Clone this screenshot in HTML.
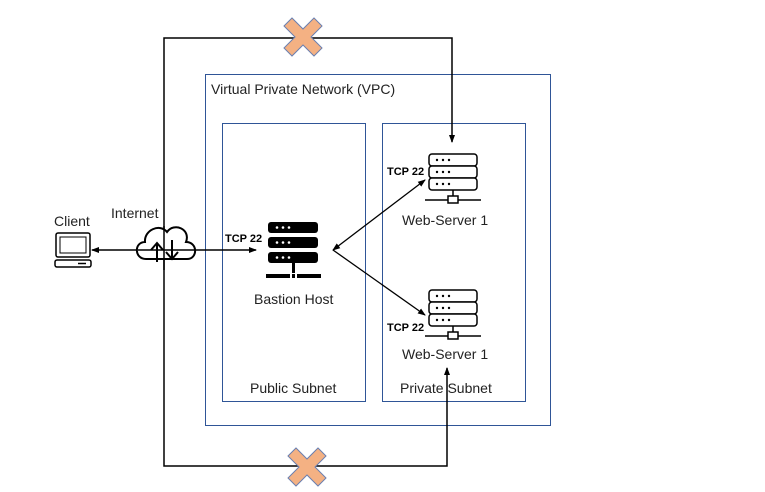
<!DOCTYPE html>
<html><head><style>
body{margin:0;background:#fff;}
svg text{font-family:"Liberation Sans",sans-serif;}
</style></head><body>
<svg width="765" height="487" viewBox="0 0 765 487" xmlns="http://www.w3.org/2000/svg">
<defs>
<marker id="a" markerWidth="8" markerHeight="8" refX="7" refY="4" orient="auto-start-reverse" markerUnits="userSpaceOnUse"><path d="M0,1 L8,4 L0,7 z" fill="#000"/></marker>
<g id="x"><path d="M-19,-11 L-11,-19 L0,-8 L11,-19 L19,-11 L8,0 L19,11 L11,19 L0,8 L-11,19 L-19,11 L-8,0 z" fill="#f4b183" stroke="#6a7fb0" stroke-width="1"/></g>
<g id="ws">
<rect x="0" y="0" width="48" height="12" rx="3" fill="#fff" stroke="#000" stroke-width="1.5"/>
<rect x="0" y="12" width="48" height="12" rx="3" fill="#fff" stroke="#000" stroke-width="1.5"/>
<rect x="0" y="24" width="48" height="12" rx="3" fill="#fff" stroke="#000" stroke-width="1.5"/>
<g fill="#000"><circle cx="8" cy="6" r="1.2"/><circle cx="14" cy="6" r="1.2"/><circle cx="20" cy="6" r="1.2"/>
<circle cx="8" cy="18" r="1.2"/><circle cx="14" cy="18" r="1.2"/><circle cx="20" cy="18" r="1.2"/>
<circle cx="8" cy="30" r="1.2"/><circle cx="14" cy="30" r="1.2"/><circle cx="20" cy="30" r="1.2"/></g>
<line x1="24" y1="36" x2="24" y2="42" stroke="#000" stroke-width="1.5"/>
<line x1="-4" y1="46" x2="52" y2="46" stroke="#000" stroke-width="1.5"/>
<rect x="19" y="42" width="10" height="7" fill="#fff" stroke="#000" stroke-width="1.5"/>
</g>
</defs>
<rect x="205.5" y="74.5" width="345" height="351" fill="none" stroke="#2f5597" stroke-width="1"/>
<rect x="222.5" y="123.5" width="143" height="278" fill="none" stroke="#2f5597" stroke-width="1"/>
<rect x="382.5" y="123.5" width="143" height="278" fill="none" stroke="#2f5597" stroke-width="1"/>
<path d="M452,142 L452,38 L164,38 L164,466 L447,466 L447,368" fill="none" stroke="#000" stroke-width="1.5" marker-start="url(#a)" marker-end="url(#a)"/>
<use href="#x" x="303" y="37"/>
<use href="#x" x="307" y="467"/>
<line x1="92" y1="250" x2="256" y2="250" stroke="#000" stroke-width="1.5" marker-start="url(#a)" marker-end="url(#a)"/>
<line x1="333" y1="250" x2="425" y2="180" stroke="#000" stroke-width="1.3" marker-start="url(#a)" marker-end="url(#a)"/>
<line x1="333" y1="250" x2="425" y2="315" stroke="#000" stroke-width="1.3" marker-end="url(#a)"/>
<rect x="56" y="233" width="34" height="24" rx="2" fill="#fff" stroke="#000" stroke-width="1.5"/>
<rect x="60" y="237" width="26" height="16" fill="#fff" stroke="#000" stroke-width="1"/>
<rect x="55" y="260" width="36" height="7" rx="2" fill="#fff" stroke="#000" stroke-width="1.5"/>
<line x1="78" y1="263.5" x2="86" y2="263.5" stroke="#000" stroke-width="1.5"/>
<path d="M146,259 C134,259 134,242 145,242 C144,230 160,223 167,232 C174,222 191,229 186,242 C198,242 198,259 187,259 Z" fill="#fff" stroke="#000" stroke-width="2"/>
<line x1="164" y1="226" x2="164" y2="270" stroke="#000" stroke-width="1.5"/>
<line x1="138" y1="250" x2="196" y2="250" stroke="#000" stroke-width="1.5"/>
<path d="M157,262 L157,244 M151,250 L157,243 L163,250" fill="none" stroke="#000" stroke-width="2"/>
<path d="M172,240 L172,258 M166,252 L172,259 L178,252" fill="none" stroke="#000" stroke-width="2"/>
<g fill="#000">
<rect x="268" y="222" width="50" height="11" rx="3"/>
<rect x="268" y="237" width="50" height="11" rx="3"/>
<rect x="268" y="252" width="50" height="11" rx="3"/>
<rect x="292" y="263" width="3" height="10"/>
<rect x="266" y="274" width="24" height="4"/>
<rect x="297" y="274" width="24" height="4"/>
<rect x="292" y="274" width="3" height="4"/>
</g>
<g fill="#fff"><circle cx="277" cy="227.5" r="1.3"/><circle cx="283" cy="227.5" r="1.3"/><circle cx="289" cy="227.5" r="1.3"/>
<circle cx="277" cy="242.5" r="1.3"/><circle cx="283" cy="242.5" r="1.3"/><circle cx="289" cy="242.5" r="1.3"/>
<circle cx="277" cy="257.5" r="1.3"/><circle cx="283" cy="257.5" r="1.3"/><circle cx="289" cy="257.5" r="1.3"/></g>
<use href="#ws" x="429" y="154"/>
<use href="#ws" x="429" y="290"/>
<g font-size="14" fill="#222">
<text x="211" y="94">Virtual Private Network (VPC)</text>
<text x="54" y="226">Client</text>
<text x="111" y="218">Internet</text>
<text x="254" y="304">Bastion Host</text>
<text x="402" y="225">Web-Server 1</text>
<text x="402" y="359">Web-Server 1</text>
<text x="250" y="393">Public Subnet</text>
<text x="400" y="393">Private Subnet</text>
</g>
<g font-size="11" font-weight="bold">
<text x="225" y="242">TCP 22</text>
<text x="387" y="175">TCP 22</text>
<text x="387" y="331">TCP 22</text>
</g>
</svg>
</body></html>
